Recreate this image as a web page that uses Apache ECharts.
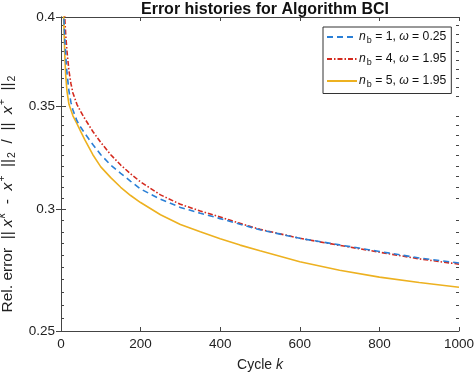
<!DOCTYPE html>
<html>
<head>
<meta charset="utf-8">
<script src="https://cdn.jsdelivr.net/npm/echarts@6/dist/echarts.min.js"></script>
<style>html,body{margin:0;padding:0;background:#fff}#c{width:474px;height:373px}</style>
</head>
<body>
<div id="c"></div>
<script>
const cycles = [1, 2, 3, 4, 5, 6, 8, 10, 12, 15, 20, 25, 30, 40, 50, 60, 80, 100, 125, 150, 175, 200, 250, 300, 350, 400, 450, 500, 600, 700, 800, 900, 1000];
const errNb1 = [0.58, 0.50, 0.46, 0.435, 0.42, 0.41, 0.395, 0.385, 0.377, 0.368, 0.358, 0.352, 0.348, 0.3425, 0.339, 0.336, 0.3305, 0.3255, 0.3205, 0.3165, 0.3128, 0.3092, 0.3045, 0.3008, 0.2982, 0.2958, 0.2933, 0.2909, 0.2872, 0.2844, 0.2816, 0.2789, 0.2768];
const errNb4 = [0.60, 0.52, 0.48, 0.455, 0.44, 0.428, 0.408, 0.397, 0.389, 0.380, 0.369, 0.362, 0.357, 0.351, 0.347, 0.3435, 0.337, 0.3315, 0.3255, 0.3205, 0.3163, 0.3125, 0.3065, 0.3022, 0.2992, 0.2965, 0.2937, 0.2911, 0.2872, 0.2842, 0.2813, 0.2785, 0.2763];
const errNb5 = [0.55, 0.48, 0.445, 0.425, 0.413, 0.405, 0.389, 0.375, 0.366, 0.358, 0.351, 0.348, 0.345, 0.341, 0.3368, 0.3328, 0.3255, 0.3196, 0.3145, 0.3100, 0.3062, 0.3030, 0.2975, 0.2932, 0.2900, 0.2870, 0.2843, 0.2819, 0.2773, 0.2738, 0.2710, 0.2688, 0.2669];
const yTicks = [0.25, 0.3, 0.35, 0.4];
const yMinorTicks = [0.255,0.26,0.265,0.27,0.275,0.28,0.285,0.29,0.295,0.305,0.31,0.315,0.32,0.325,0.33,0.335,0.34,0.345,0.355,0.36,0.365,0.37,0.375,0.38,0.385,0.39,0.395];
const xTicks = [0, 200, 400, 600, 800, 1000];

const FONT = 'Liberation Sans';
const AX = '#444';
const chart = echarts.init(document.getElementById('c'), null, {renderer: 'canvas'});
const pairs = v => cycles.map((k, i) => [k, v[i]]);
const legendNames = {
  nb1: '{i|n}{sub|b}{t| = 1, }{i|ω}{t| = 0.25}',
  nb4: '{i|n}{sub|b}{t| = 4, }{i|ω}{t| = 1.95}',
  nb5: '{i|n}{sub|b}{t| = 5, }{i|ω}{t| = 1.95}'
};
const baseX = {type: 'value', min: 0, max: 1000, interval: 200, splitLine: {show: false}};
const baseY = {type: 'log', logBase: 10, min: 0.25, max: 0.4, splitLine: {show: false}};
const option = {
  animation: false,
  backgroundColor: '#fff',
  title: {
    text: 'Error histories for Algorithm BCI',
    left: 260, top: -3, textAlign: 'center',
    textStyle: {fontFamily: FONT, fontSize: 16, fontWeight: 'bold', color: '#111'}
  },
  grid: {left: 61, right: 15, top: 17, bottom: 42, containLabel: false, outerBoundsMode: 'none'},
  legend: {
    orient: 'vertical', left: 323, top: 27,
    data: ['nb1', 'nb4', 'nb5'],
    borderColor: '#333', borderWidth: 1, backgroundColor: '#fff',
    padding: [4, 5, 4, 3], itemGap: 7.5, itemWidth: 30, itemHeight: 14,
    itemStyle: {opacity: 0},
    formatter: n => legendNames[n],
    textStyle: {
      fontFamily: FONT, fontSize: 12.2, color: '#111', padding: [0, 0, 0, -3],
      rich: {
        i: {fontFamily: FONT, fontSize: 12.2, fontStyle: 'italic', color: '#111'},
        t: {fontFamily: FONT, fontSize: 12.2, color: '#111'},
        sub: {fontFamily: FONT, fontSize: 9, color: '#111', padding: [8, 0, 0, 1]}
      }
    }
  },
  xAxis: [
    Object.assign({}, baseX, {
      position: 'bottom',
      axisLine: {lineStyle: {color: AX, width: 1}},
      axisTick: {inside: true, length: 4, lineStyle: {color: AX}},
      axisLabel: {fontFamily: FONT, fontSize: 13.5, color: '#222', margin: 6,
                  customValues: xTicks, showMaxLabel: true, formatter: v => String(v)},
      name: '{t|Cycle }{i|k}', nameLocation: 'middle', nameGap: 27,
      nameTextStyle: {fontFamily: FONT, fontSize: 14, color: '#222',
        rich: {t: {fontFamily: FONT, fontSize: 14, color: '#222'},
               i: {fontFamily: FONT, fontSize: 14, fontStyle: 'italic', color: '#222'}}}
    }),
    Object.assign({}, baseX, {
      position: 'top',
      axisLine: {lineStyle: {color: AX, width: 1}},
      axisTick: {inside: true, length: 4, lineStyle: {color: AX}},
      axisLabel: {show: false}
    })
  ],
  yAxis: [
    Object.assign({}, baseY, {
      position: 'left',
      axisLine: {lineStyle: {color: AX, width: 1}},
      axisTick: {inside: true, length: 5, customValues: yTicks, lineStyle: {color: AX}},
      axisLabel: {fontFamily: FONT, fontSize: 13.5, color: '#222', margin: 6,
                  customValues: yTicks, formatter: v => String(+v.toFixed(3))},
      name: '{t|Rel. error  || }{i|x}{sup|k}{t|  -  }{i|x}{sup|+}{t|  ||}{sub|2}{t|  /  ||  }{i|x}{sup|+}{t|  ||}{sub|2}',
      nameLocation: 'middle', nameGap: 43, nameRotate: 90,
      nameTextStyle: {fontFamily: FONT, fontSize: 15.5, color: '#222', padding: [0, 40, 0, 0],
        rich: {
          t: {fontFamily: FONT, fontSize: 15.5, color: '#222'},
          i: {fontFamily: FONT, fontSize: 15.5, fontStyle: 'italic', color: '#222'},
          sup: {fontFamily: FONT, fontSize: 10.5, fontStyle: 'italic', color: '#222', padding: [0, 0, 10, 1]},
          sub: {fontFamily: FONT, fontSize: 10.5, color: '#222', padding: [10, 0, 0, 1]}
        }}
    }),
    Object.assign({}, baseY, {
      position: 'right',
      axisLine: {lineStyle: {color: AX, width: 1}},
      axisTick: {inside: true, length: 5, customValues: yTicks, lineStyle: {color: AX}},
      axisLabel: {show: false}
    }),
    Object.assign({}, baseY, {
      position: 'left', offset: 0,
      axisLine: {show: false},
      axisTick: {inside: true, length: 3, customValues: yMinorTicks, lineStyle: {color: AX}},
      axisLabel: {show: false}
    }),
    Object.assign({}, baseY, {
      position: 'right', offset: 0,
      axisLine: {show: false},
      axisTick: {inside: true, length: 3, customValues: yMinorTicks, lineStyle: {color: AX}},
      axisLabel: {show: false}
    })
  ],
  series: [
    {name: 'nb1', type: 'line', data: pairs(errNb1), showSymbol: false, symbol: 'none',
     clip: true, z: 3,
     lineStyle: {color: '#2a7fd6', width: 1.6, type: [6, 4]}, itemStyle: {color: '#2a7fd6'}},
    {name: 'nb4', type: 'line', data: pairs(errNb4), showSymbol: false, symbol: 'none',
     clip: true, z: 2,
     lineStyle: {color: '#d42a1e', width: 1.6, type: [5, 2, 1.5, 2]}, itemStyle: {color: '#d42a1e'}},
    {name: 'nb5', type: 'line', data: pairs(errNb5), showSymbol: false, symbol: 'none',
     clip: true, z: 2,
     lineStyle: {color: '#EDB120', width: 1.6}, itemStyle: {color: '#EDB120'}}
  ]
};
chart.setOption(option);
</script>
</body>
</html>
